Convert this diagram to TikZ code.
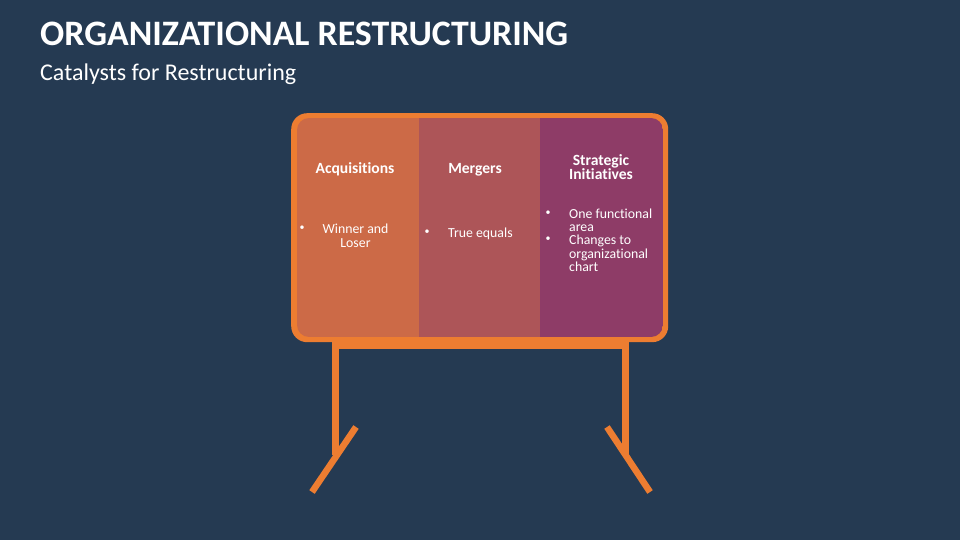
\documentclass[tikz,border=0pt]{standalone}
\usepackage{fontspec}
\setmainfont{Carlito}[Ligatures=NoCommon]
\definecolor{bg}{HTML}{253A52}
\definecolor{frame}{HTML}{ED7D31}
\definecolor{panelA}{HTML}{CC6A47}
\definecolor{panelB}{HTML}{AD5558}
\definecolor{panelC}{HTML}{8E3C67}
\tikzset{
  head/.style={text=white,font=\fontsize{15.6}{14}\selectfont\bfseries,anchor=base,inner sep=0pt},
  body/.style={text=white,font=\fontsize{13.8}{13.4}\selectfont,inner sep=0pt},
  bul/.style={text=white,font=\fontsize{10}{10}\selectfont,inner sep=0pt,anchor=center},
  legline/.style={draw=frame,line width=6.5pt},
}
\begin{document}
\begin{tikzpicture}[x=1pt,y=-1pt]
\fill[bg] (0,0) rectangle (960,540);
\useasboundingbox (0,0) rectangle (960,540);
% titles
\node[text=white,anchor=base west,inner sep=0pt,font=\fontsize{35.8}{38}\selectfont\bfseries] (title) at (40,46) {ORGANIZATIONAL RESTRUCTURING};
\node[text=white,anchor=base west,inner sep=0pt,font=\fontsize{24}{26}\selectfont] (sub) at (40,81) {Catalysts for Restructuring};
% stand
\coordinate (lt) at (335.5,345);
\coordinate (lb) at (335.5,455);
\coordinate (rt) at (625.5,345);
\coordinate (rb) at (625.5,455);
\coordinate (lf1) at (312,492);
\coordinate (lf2) at (356,427);
\coordinate (rf1) at (650,492);
\coordinate (rf2) at (607,427);
\fill[frame] (332,336) rectangle (629,349);
\draw[legline] (lt) -- (lb);
\draw[legline] (rt) -- (rb);
\draw[legline] (lf1) -- (lf2);
\draw[legline] (rf1) -- (rf2);
% board
\node[fill=frame,rounded corners=16pt,minimum width=377pt,minimum height=229pt,inner sep=0pt,anchor=north west] (board) at (291,113) {};
\begin{scope}
\clip[rounded corners=12pt] (297,118) rectangle (663,337);
\fill[panelA] (297,118) rectangle (419,337);
\fill[panelB] (419,118) rectangle (540,337);
\fill[panelC] (540,118) rectangle (663,337);
\end{scope}
% headings
\node[head] (hA) at (355,174) {Acquisitions};
\node[head] (hB) at (475,174) {Mergers};
\node[head] (hC1) at (601,165) {Strategic};
\node[head] (hC2) at (601,179.5) {Initiatives};
% bullets
\node[bul] (bA) at (302,228) {•};
\node[body,anchor=base] (tA1) at (355.5,233) {Winner and};
\node[body,anchor=base] (tA2) at (355.5,247) {Loser};
\node[bul] (bB) at (427,232) {•};
\node[body,anchor=base west] (tB) at (448,237) {True equals};
\node[bul] (bC1) at (548,213) {•};
\node[bul] (bC2) at (548,239) {•};
\node[body,anchor=base west] (tC1) at (569,218) {One functional};
\node[body,anchor=base west] (tC2) at (569,231) {area};
\node[body,anchor=base west] (tC3) at (569,244.5) {Changes to};
\node[body,anchor=base west] (tC4) at (569,258) {organizational};
\node[body,anchor=base west] (tC5) at (569,271) {chart};
\end{tikzpicture}
\end{document}
